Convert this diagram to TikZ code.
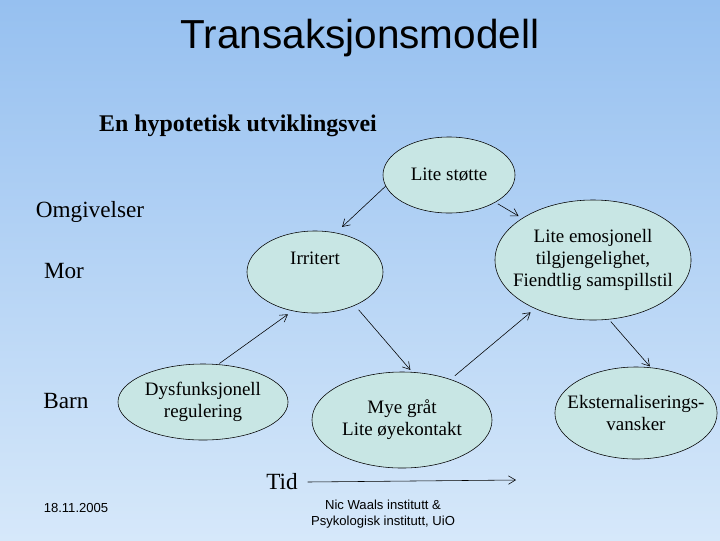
\documentclass[tikz,border=0pt]{standalone}
\usepackage{fontspec}
\setmainfont{Liberation Serif}
\setsansfont{Liberation Sans}
\usetikzlibrary{shapes.geometric,arrows.meta,positioning}
\definecolor{slidetop}{RGB}{150,192,240}
\definecolor{slidebot}{RGB}{214,232,250}
\definecolor{stagefill}{RGB}{200,230,228}
\begin{document}
\begin{tikzpicture}[
        x=0.025cm, y=-0.025cm,
        stage/.style={ellipse, draw, fill=stagefill, align=center, inner sep=0pt,
            font=\fontsize{13.5}{15.5}\selectfont},
        arr/.style={-{Straight Barb[length=5pt,width=6pt]}, thin},
        lab/.style={font=\fontsize{16.5}{19}\selectfont}
    ]
        \shade[top color=slidetop, bottom color=slidebot] (0,0) rectangle (720,540);
        \useasboundingbox (0,0) rectangle (720,540);

        \node[font=\sffamily\fontsize{28.8}{32}\selectfont] (title) at (360,38) {Transaksjonsmodell};
        \node[font=\bfseries\fontsize{17}{20}\selectfont] (sub) at (238,126) {En hypotetisk utviklingsvei};

        \node[lab] (omg) at (90,212) {Omgivelser};
        \node[lab] (mor) at (64,271) {Mor};
        \node[lab] (barn) at (66,401) {Barn};
        \node[lab] (tid) at (282,482) {Tid};

        \node[stage, minimum width=3.3cm, minimum height=1.9cm] (stotte) at (449,175) {Lite støtte};
        \node[stage, minimum width=3.4cm, minimum height=2.05cm, text depth=0.7cm] (irritert) at (315,272) {Irritert};
        \node[stage, minimum width=4.9cm, minimum height=3cm, inner xsep=-0.27cm] (emosj) at (593,260) {Lite emosjonell\\tilgjengelighet,\\Fiendtlig samspillstil};
        \node[stage, minimum width=4.25cm, minimum height=1.9cm] (dysf) at (203,402) {Dysfunksjonell\\regulering};
        \node[stage, minimum width=4.5cm, minimum height=2.4cm] (graat) at (402,420) {Mye gråt\\Lite øyekontakt};
        \node[stage, minimum width=3.75cm, minimum height=2.3cm, inner xsep=-0.28cm] (ekst) at (636,413) {Eksternaliserings-\\vansker};

        \coordinate (tidend) at (516,480);

        \draw[arr, shorten >=6pt] (stotte.190) -- (irritert.62);
        \draw[arr, shorten <=2pt, shorten >=3pt] (stotte) -- (emosj);
        \draw[arr, shorten <=1pt, shorten >=4pt] (dysf.68) -- (irritert.240);
        \draw[arr, shorten <=4pt, shorten >=2pt] (irritert.-40) -- (graat.78);
        \draw[arr, shorten <=4pt, shorten >=4pt] (graat) -- (emosj);
        \draw[arr, shorten <=2pt, shorten >=1pt] (emosj.-75) -- (ekst.72);
        \draw[arr] (tid.east) ++(5,0) coordinate (tidstart) (tidstart) -- (tidend);

        \node[font=\sffamily\fontsize{9.3}{11}\selectfont] (dato) at (76,508) {18.11.2005};
        \node[font=\sffamily\fontsize{9.3}{11}\selectfont, align=center] (inst) at (383,514) {Nic Waals institutt \&\\Psykologisk institutt, UiO};
    \end{tikzpicture}
\end{document}
